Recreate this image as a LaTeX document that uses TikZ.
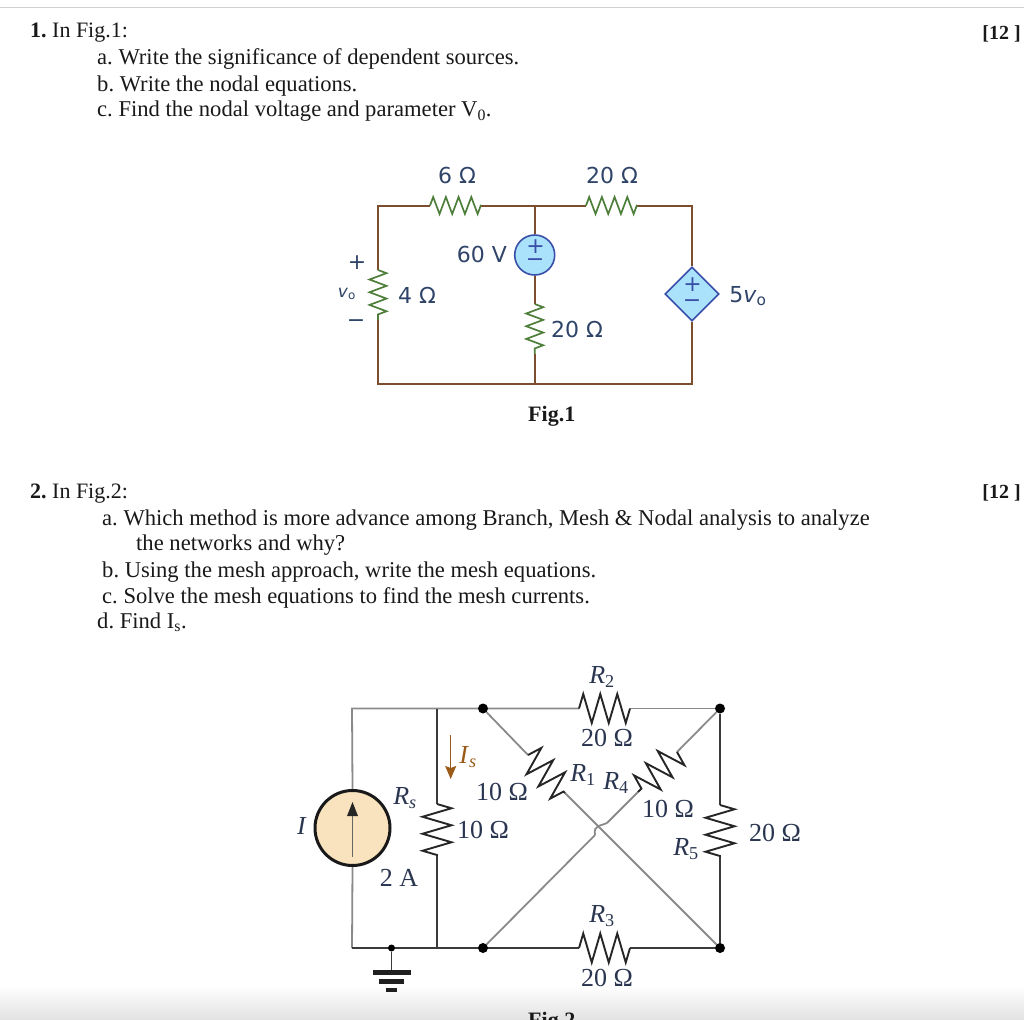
\documentclass[tikz,border=0pt]{standalone}
\usepackage{fontspec}
\setmainfont{Liberation Serif}
\setsansfont{DejaVu Sans}
\usetikzlibrary{decorations.pathmorphing,shapes.geometric,arrows.meta,calc,backgrounds}
\definecolor{wirebr}{HTML}{7D4E2D}
\definecolor{resgr}{HTML}{4E7F3A}
\definecolor{srcfill}{HTML}{A9E2FA}
\definecolor{srcline}{HTML}{3A4FA8}
\definecolor{lab}{HTML}{2F4468}
\definecolor{wiregr}{HTML}{8A8A8A}
\definecolor{wiredk}{HTML}{3A3A3A}
\definecolor{cream}{HTML}{F8E3BE}
\definecolor{orng}{HTML}{9A5A18}
\definecolor{lab2}{HTML}{2A3550}
\tikzset{
  x=1pt,y=-1pt,
  body/.style={anchor=base west,inner sep=0pt,font=\fontsize{22.6}{24}\selectfont\frenchspacing,text=black!90},
  head/.style={body,font=\fontsize{22}{24}\selectfont\frenchspacing},
  bodyb/.style={body,font=\fontsize{22}{24}\selectfont\bfseries},
  markb/.style={body,anchor=base east,font=\fontsize{20}{22}\selectfont\bfseries},
  f1lab/.style={inner sep=0pt,font=\sffamily\fontsize{22}{24}\selectfont,text=lab},
  f1sym/.style={inner sep=0pt,font=\sffamily\fontsize{22}{22}\selectfont},
  f2lab/.style={inner sep=0pt,font=\fontsize{26}{28}\selectfont,text=lab2},
  wire1/.style={draw=wirebr,line width=2pt},
  res1/.style={draw=resgr,line width=1.7pt,decorate,decoration={zigzag,segment length=12.7pt,amplitude=8.5pt}},
  wireg/.style={draw=wiregr,line width=1.8pt},
  wired/.style={draw=wiredk,line width=1.4pt},
  res2/.style={draw=black!85,line width=1.9pt,decorate,decoration={zigzag,segment length=17pt,amplitude=14.5pt}},
  dot/.style={circle,fill=black,inner sep=0pt,minimum size=10pt},
}
\begin{document}
\begin{tikzpicture}
\useasboundingbox (0,0) rectangle (1024,1019);
\clip (0,0) rectangle (1024,1019);
% text
\node[head] (t1) at (30,38) {\textbf{1.} In Fig.1:};
\node[markb] (m1) at (1021,40) {[12 ]};
\node[body] (t1a) at (97,65) {a. Write the significance of dependent sources.};
\node[body] (t1b) at (97,91.5) {b. Write the nodal equations.};
\node[body] (t1c) at (97,117) {c. Find the nodal voltage and parameter V\textsubscript{0}.};
\node[bodyb] (c1) at (528,421) {Fig.1};
\node[head] (t2) at (30,498) {\textbf{2.} In Fig.2:};
\node[markb] (m2) at (1021,498) {[12 ]};
\node[body] (t2a) at (102,525) {a. Which method is more advance among Branch, Mesh \& Nodal analysis to analyze};
\node[body] (t2a2) at (136,550) {the networks and why?};
\node[body] (t2b) at (102,577) {b. Using the mesh approach, write the mesh equations.};
\node[body] (t2c) at (102,603) {c. Solve the mesh equations to find the mesh currents.};
\node[body] (t2d) at (97,628) {d. Find I\textsubscript{s}.};
% ---- Fig 1
\coordinate (tl) at (378,205.5);
\coordinate (tm) at (534.7,205.5);
\coordinate (tr) at (692,205.5);
\coordinate (bl) at (378,384);
\coordinate (bm) at (534.7,384);
\coordinate (br) at (692,384);
\coordinate (r6a) at (430,205.5);
\coordinate (r6b) at (481,205.5);
\coordinate (r20a) at (586,205.5);
\coordinate (r20b) at (637,205.5);
\coordinate (r4a) at (378,270);
\coordinate (r4b) at (378,320);
\coordinate (r20va) at (534.7,304);
\coordinate (r20vb) at (534.7,354);
\node[circle,draw=srcline,fill=srcfill,line width=1.6pt,minimum size=40pt,inner sep=0pt] (vs) at (534.7,255) {};
\node[diamond,draw=srcline,fill=srcfill,line width=1.6pt,minimum width=54pt,minimum height=54pt,inner sep=0pt] (ds) at (692,294) {};
\draw[wire1,line join=miter] (r4a) -- (tl) -- (r6a);
\draw[wire1] (r6b) -- (r20a);
\draw[wire1,line join=miter] (r20b) -- (tr) -- (ds.north);
\draw[wire1,line join=miter] (ds.south) -- (br) -- (bl) -- (r4b);
\draw[wire1] (tm) -- (vs.north);
\draw[wire1] (vs.south) -- (r20va);
\draw[wire1] (r20vb) -- (bm);
\draw[res1] (r6a) -- (r6b);
\draw[res1] (r20a) -- (r20b);
\draw[res1] (r4a) -- (r4b);
\draw[res1] (r20va) -- (r20vb);
\node[f1sym,text=srcline] (vsp) at (535.5,247) {+};
\node[f1sym,text=srcline] (vsm) at (535,263) {−};
\node[f1sym,text=srcline] (dsp) at (692.5,285) {+};
\node[f1sym,text=srcline] (dsm) at (692,304) {−};
\node[f1lab] (l6) at (457,175) {6 Ω};
\node[f1lab] (l20a) at (612,175) {20 Ω};
\node[f1lab] (l60) at (482,254) {60 V};
\node[f1lab] (l4) at (417,295) {4 Ω};
\node[f1lab] (l20v) at (577,329) {20 Ω};
\node[f1lab] (l5v) at (748,296) {5\textit{v}\textsubscript{o}};
\node[f1lab] (lvo) at (347,294) {\fontsize{17}{17}\selectfont\textit{v}\textsubscript{o}};
\node[f1sym,text=lab] (lp) at (357,263) {+};
\node[f1sym,text=lab] (lm) at (356,324) {−};
% ---- Fig 2
\coordinate (a0) at (352,708.5);
\coordinate (a1) at (437,708.5);
\node[dot] (na) at (483,708.5) {};
\node[dot] (nb) at (720,708.5) {};
\node[dot] (nc) at (483,948) {};
\node[dot] (nd) at (720,948) {};
\coordinate (b0) at (352,948);
\coordinate (b1) at (437,948);
\node[circle,fill=black,inner sep=0pt,minimum size=7pt] (ng) at (391.5,948) {};
\node[circle,draw=black!90,fill=cream,line width=3pt,minimum size=75pt,inner sep=0pt] (is) at (352.5,828) {};
\coordinate (rsa) at (437,804);
\coordinate (rsb) at (437,856);
\coordinate (r2a) at (579,708.5);
\coordinate (r2b) at (630,708.5);
\coordinate (r3a) at (579,948);
\coordinate (r3b) at (630,948);
\coordinate (r5a) at (720,805);
\coordinate (r5b) at (720,857);
\coordinate (r1a) at (528,755);
\coordinate (r1b) at (565,793);
\coordinate (r4xa) at (677,752);
\coordinate (r4xb) at (638,792);
\coordinate (hopa) at (607,823);
\coordinate (hopb) at (595,835);
\begin{scope}[on background layer]
\shade[top color=white,bottom color=black!11] (0,985) rectangle (1024,1019);
\draw[black!18,line width=1.2pt] (0,7.5) -- (1024,7.5);
\draw[wireg,line join=miter] (is.north) -- (a0) -- (r2a);
\draw[wireg] (r2b) -- (nb);
\draw[wireg,line join=miter] (is.south) -- (b0);
\draw[wired] (b0) -- (r3a);
\draw[wired] (r3b) -- (nd);
\draw[wired] (a1) -- (rsa);
\draw[wired] (rsb) -- (b1);
\draw[wired] (nb) -- (r5a);
\draw[wired] (r5b) -- (nd);
\draw[wireg] (na) -- (r1a);
\draw[wireg] (r1b) -- (nd);
\draw[wireg] (nb) -- (r4xa);
\draw[wireg] (r4xb) -- (hopa);
\draw[wireg] (hopa) .. controls (602,826) and (593,824) .. (hopb);
\draw[wireg] (hopb) -- (nc);
\draw[wired] (ng) -- (391.5,972);
\end{scope}
\draw[res2] (rsa) -- (rsb);
\draw[res2] (r2a) -- (r2b);
\draw[res2] (r3a) -- (r3b);
\draw[res2] (r5a) -- (r5b);
\draw[res2] (r1a) -- (r1b);
\draw[res2] (r4xa) -- (r4xb);
% source arrow
\coordinate (isb) at (352.5,857);
\coordinate (ist) at (352.5,803);
\draw[draw=black!60,line width=1.2pt] (isb) -- (ist);
\fill[black!85] (352.5,802) -- (347,816) -- (358,816) -- cycle;
% Is arrow
\coordinate (ia) at (450.7,735);
\coordinate (ib) at (450.7,779);
\draw[orng,line width=1.3pt,-{Stealth[length=13pt,width=11pt,inset=2pt]}] (ia) -- (ib);
% ground
\fill[black!88] (373,970) rectangle (411,975);
\fill[black!88] (379,979) rectangle (404,984);
\fill[black!88] (386,988) rectangle (397,992);
% labels
\node[f2lab] (li) at (302,826) {\textit{I}};
\node[f2lab] (lis) at (468,757) {\textcolor{orng}{\textit{I}\textsubscript{\textit{s}}}};
\node[f2lab] (lrs) at (405,798) {\textit{R\textsubscript{s}}};
\node[f2lab] (l2a) at (399,878) {2 A};
\node[f2lab] (l10a) at (502,792) {10 Ω};
\node[f2lab] (l10b) at (483,830) {10 Ω};
\node[f2lab] (lr2) at (602,677) {\textit{R}\textsubscript{2}};
\node[f2lab] (l20t) at (607,738) {20 Ω};
\node[f2lab] (lr1) at (583,775) {\textit{R}\textsubscript{1}};
\node[f2lab] (lr4) at (616,783) {\textit{R}\textsubscript{4}};
\node[f2lab] (l10c) at (668,809) {10 Ω};
\node[f2lab] (lr5) at (686,849) {\textit{R}\textsubscript{5}};
\node[f2lab] (l20r) at (775,833) {20 Ω};
\node[f2lab] (lr3) at (602,916) {\textit{R}\textsubscript{3}};
\node[f2lab] (l20b) at (607,978) {20 Ω};
\node[bodyb] (c2) at (528,1027) {Fig.2};
\end{tikzpicture}
\end{document}
